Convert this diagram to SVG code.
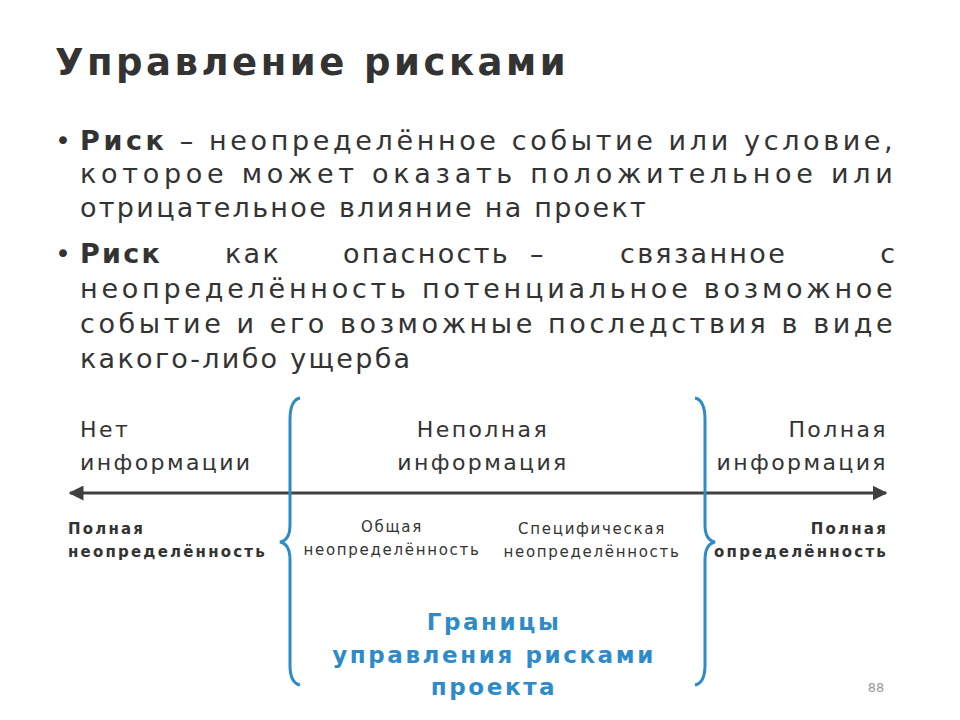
<svg xmlns="http://www.w3.org/2000/svg" width="960" height="720" viewBox="0 0 960 720">
<defs>
<style>
text{font-family:"DejaVu Sans",Verdana,sans-serif;fill:#333}
.t{font-size:37px;font-weight:bold;letter-spacing:3.5px}
.b{font-size:27px;letter-spacing:2.3px}
.m{font-size:22px;letter-spacing:2.4px}
.s{font-size:15px;letter-spacing:1.7px}
.sb{font-size:15px;font-weight:bold;letter-spacing:2.2px}
.bl{font-size:23px;font-weight:bold;letter-spacing:2.6px}
.bl text{fill:#2e8bc8}
.br{fill:none;stroke:#2e8bc8;stroke-width:3}
</style>
<marker id="ah" viewBox="0 0 10 10" refX="9" refY="5" markerWidth="5" markerHeight="5" orient="auto-start-reverse"><path d="M0,0L10,5L0,10z" fill="#404040"/></marker>
</defs>
<rect width="960" height="720" fill="#fff"/>
<text class="t" x="55" y="75">Управление рисками</text>
<g id="bullets" class="b">
<text x="55" y="150">•</text>
<text x="80" y="150" textLength="815" lengthAdjust="spacing"><tspan font-weight="bold">Риск</tspan> – неопределённое событие или условие,</text>
<text x="80" y="183" textLength="815" lengthAdjust="spacing">которое может оказать положительное или</text>
<text x="80" y="217">отрицательное влияние на проект</text>
<text x="55" y="263">•</text>
<text x="80" y="263" font-weight="bold">Риск</text>
<text x="225" y="263">как</text>
<text x="343" y="263">опасность</text>
<text x="530" y="263">–</text>
<text x="620" y="263">связанное</text>
<text x="895" y="263" text-anchor="end" style="letter-spacing:0">с</text>
<text x="80" y="298" textLength="815" lengthAdjust="spacing">неопределённость потенциальное возможное</text>
<text x="80" y="333" textLength="815" lengthAdjust="spacing">событие и его возможные последствия в виде</text>
<text x="80" y="368">какого-либо ущерба</text>
</g>
<g id="connectors">
<line x1="70" y1="493" x2="886" y2="493" stroke="#404040" stroke-width="3" marker-start="url(#ah)" marker-end="url(#ah)"/>
<path class="br" d="M300,398 Q290,400 290,420 L290,525 Q290,540 280,542 Q290,544 290,560 L290,665 Q290,683 300,685"/>
<path class="br" d="M695,398 Q705,400 705,420 L705,525 Q705,540 715,542 Q705,544 705,560 L705,665 Q705,683 695,685"/>
</g>
<g id="top-labels" class="m">
<text x="80" y="437">Нет</text><text x="80" y="470">информации</text>
<text x="483" y="437" text-anchor="middle">Неполная</text><text x="483" y="470" text-anchor="middle">информация</text>
<text x="888" y="437" text-anchor="end">Полная</text><text x="888" y="470" text-anchor="end">информация</text>
</g>
<g id="bottom-labels">
<text class="sb" x="68" y="534">Полная</text><text class="sb" x="68" y="557">неопределённость</text>
<text class="s" x="392" y="532" text-anchor="middle">Общая</text><text class="s" x="392" y="555" text-anchor="middle">неопределённость</text>
<text class="s" x="592" y="534" text-anchor="middle">Специфическая</text><text class="s" x="592" y="557" text-anchor="middle">неопределённость</text>
<text class="sb" x="888" y="534" text-anchor="end">Полная</text><text class="sb" x="888" y="557" text-anchor="end">определённость</text>
</g>
<g id="bounds" class="bl">
<text x="494" y="630" text-anchor="middle">Границы</text>
<text x="494" y="663" text-anchor="middle">управления рисками</text>
<text x="494" y="695" text-anchor="middle">проекта</text>
</g>
<text x="876" y="692" font-size="13" text-anchor="middle" style="fill:#999">88</text>
</svg>
